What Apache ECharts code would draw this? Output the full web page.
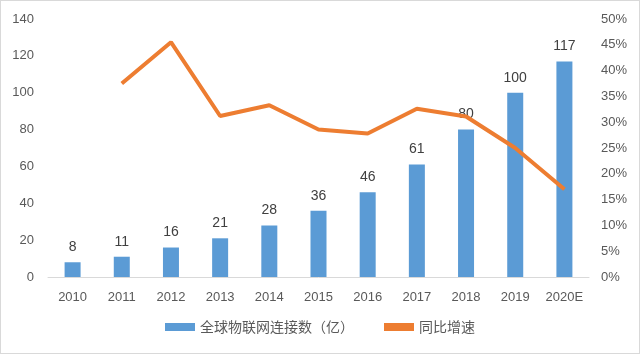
<!DOCTYPE html>
<html>
<head>
<meta charset="utf-8">
<script src="https://cdn.jsdelivr.net/npm/echarts@6/dist/echarts.min.js"></script>
<style>
  html, body { margin: 0; padding: 0; background: #fff; }
  #chart { width: 640px; height: 354px; box-sizing: border-box; border: 1px solid #d9d9d9; }
</style>
</head>
<body>
<div id="chart"></div>
<script>
// 年份
var years = ["2010", "2011", "2012", "2013", "2014", "2015", "2016", "2017", "2018", "2019", "2020E"];
// 全球物联网连接数（亿）
var connections = [8, 11, 16, 21, 28, 36, 46, 61, 80, 100, 117];
// 同比增速（%）
var growth = [null, 37.5, 45.5, 31.2, 33.3, 28.6, 27.8, 32.6, 31.1, 25.0, 17.0];

var names = ["全球物联网连接数（亿）", "同比增速"];
var textColor = "#595959";
var numFont = "Liberation Sans";

var myChart = echarts.init(document.getElementById("chart"));
var option = {
  animation: false,
  grid: { left: 47, right: 50, top: 18, bottom: 76 },
  legend: {
    bottom: 14,
    left: "center",
    itemWidth: 30,
    itemHeight: 8,
    itemGap: 30,
    textStyle: { color: textColor, fontSize: 14, fontFamily: "Noto Sans CJK SC" },
    data: [
      { name: names[0], icon: "rect" },
      { name: names[1], icon: "rect", itemStyle: { color: "#ED7D31" } }
    ]
  },
  xAxis: {
    type: "category",
    data: years,
    axisLine: { show: true, lineStyle: { color: "#d9d9d9", width: 1 } },
    axisTick: { show: false },
    axisLabel: { color: textColor, fontSize: 13, fontFamily: numFont, margin: 14 }
  },
  yAxis: [
    {
      type: "value",
      min: 0, max: 140, interval: 20,
      axisLine: { show: false },
      axisTick: { show: false },
      splitLine: { show: false },
      axisLabel: { color: textColor, fontSize: 13, fontFamily: numFont, margin: 14 }
    },
    {
      type: "value",
      min: 0, max: 50, interval: 5,
      axisLine: { show: false },
      axisTick: { show: false },
      splitLine: { show: false },
      axisLabel: { color: textColor, fontSize: 13, fontFamily: numFont, margin: 12, formatter: "{value}%" }
    }
  ],
  series: [
    {
      name: names[0],
      type: "bar",
      data: connections,
      barWidth: 16,
      itemStyle: { color: "#5B9BD5" },
      label: { show: true, position: "top", distance: 8, color: "#404040", fontSize: 14, fontFamily: numFont }
    },
    {
      name: names[1],
      type: "line",
      yAxisIndex: 1,
      data: growth,
      symbol: "none",
      lineStyle: { color: "#ED7D31", width: 4 },
      itemStyle: { color: "#ED7D31" }
    }
  ]
};
myChart.setOption(option);
</script>
</body>
</html>
